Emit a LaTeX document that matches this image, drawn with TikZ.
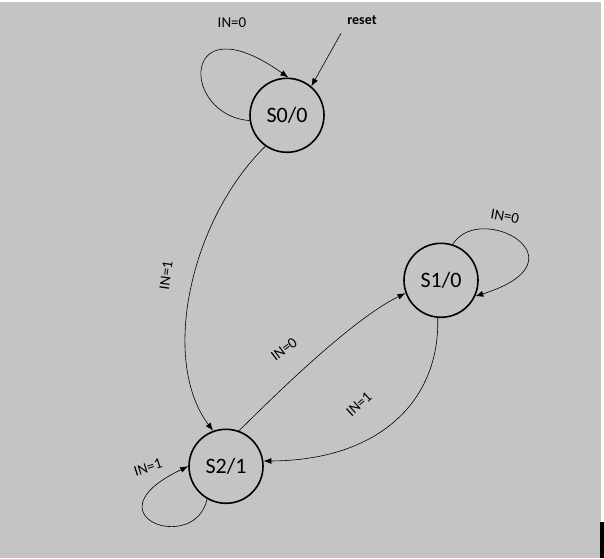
\documentclass[tikz,border=0pt]{standalone}
\usepackage{fontspec}
\setmainfont{Carlito}
\usetikzlibrary{arrows.meta}
\begin{document}
\begin{tikzpicture}[x=1pt,y=-1pt,
 state/.style={circle,draw,line width=1.6pt,minimum size=74pt,inner sep=0pt,font=\fontsize{22}{24}\selectfont},
 edge/.style={-{Latex[length=8pt,width=6pt]},line width=0.6pt},
 lbl/.style={font=\fontsize{15}{17}\selectfont,inner sep=1pt}]
\fill[fill={rgb,255:red,196;green,196;blue,196}] (0,0) rectangle (604,558);
\fill[white] (0,0) rectangle (604,2);
\fill[white] (601,0) rectangle (604,522);
\fill[black] (600,522) rectangle (604,558);
\node[state] (s0) at (287,115) {S0/0};
\node[state] (s1) at (441,280) {S1/0};
\node[state] (s2) at (226,466) {S2/1};
\coordinate (r) at (341,33);
\node[font=\bfseries\fontsize{14}{16}\selectfont] (rl) at (362,20) {reset};
\draw[edge] (r) -- (s0.50);
\draw[edge] (s0.188) .. controls (180,115) and (180,0) .. (s0.88);
\node[lbl] (l1) at (232,22) {IN=0};
\draw[edge] (s0.235) .. controls (190,220) and (160,360) .. (s2.110);
\node[lbl,rotate=82] (l2) at (166,275) {IN=1};
\draw[edge] (s2.70) .. controls (270,400) and (350,320) .. (s1.200);
\node[lbl,rotate=37] (l3) at (284,349) {IN=0};
\draw[edge] (s1.265) .. controls (440,400) and (380,460) .. (s2.8);
\node[lbl,rotate=42] (l4) at (359,404) {IN=1};
\draw[edge] (s1.72) .. controls (480,200) and (590,260) .. (s1.335);
\node[lbl,rotate=-10] (l5) at (505,216) {IN=0};
\draw[edge] (s2.240) .. controls (195,555) and (85,515) .. (s2.180);
\node[lbl,rotate=18] (l6) at (148,467) {IN=1};
\end{tikzpicture}
\end{document}
